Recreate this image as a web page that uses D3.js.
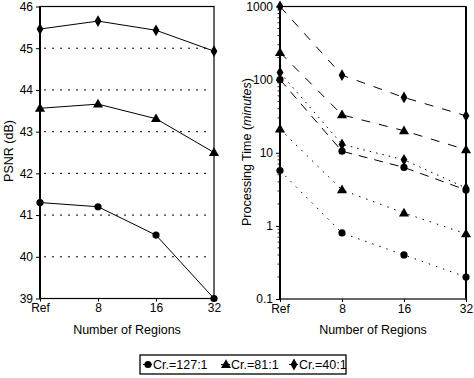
<!DOCTYPE html>
<html>
<head>
<meta charset="utf-8">
<script src="https://d3js.org/d3.v7.min.js"></script>
<style>
  body { margin: 0; background: #fff; }
  text { font-family: "Liberation Sans", Arial, sans-serif; fill: #000; }
</style>
</head>
<body>
<div id="chart"></div>
<script>
// categories on the x axis
const regions = ["Ref", "8", "16", "32"];

// left panel: PSNR (dB)
const psnr127 = [41.3, 41.2, 40.52, 39.0];
const psnr81 = [43.56, 43.66, 43.31, 42.5];
const psnr40 = [45.46, 45.65, 45.43, 44.93];
const psnrTicks = [39, 40, 41, 42, 43, 44, 45, 46];

// right panel: processing time (minutes), dashed and dotted groups
const timeDashed40 = [1000, 115, 57, 32];
const timeDashed81 = [235, 33, 20, 11];
const timeDashed127 = [100, 10.5, 6.3, 3.1];
const timeDotted40 = [125, 13, 8, 3.3];
const timeDotted81 = [21, 3.1, 1.5, 0.78];
const timeDotted127 = [5.7, 0.8, 0.4, 0.2];
const timeTicks = [0.1, 1, 10, 100, 1000];

const legendLabels = ["Cr.=127:1", "Cr.=81:1", "Cr.=40:1"];

const W = 474, H = 378;
const svg = d3.select("#chart").append("svg")
  .attr("width", W).attr("height", H);

// marker drawing
function marker(g, kind, cx, cy) {
  if (kind === "circle") {
    g.append("circle").attr("cx", cx).attr("cy", cy).attr("r", 3.6).attr("fill", "#000");
  } else if (kind === "triangle") {
    g.append("path").attr("d", d3.symbol(d3.symbolTriangle, 44)())
      .attr("transform", `translate(${cx},${cy + 0.5})`).attr("fill", "#000");
  } else {
    g.append("path").attr("d", d3.symbol(d3.symbolDiamond, 40)())
      .attr("transform", `translate(${cx},${cy})`).attr("fill", "#000");
  }
}

function panel(opts) {
  const g = svg.append("g");
  const x = d3.scalePoint().domain(regions).range([opts.x0, opts.x1]);
  const y = opts.y;

  // gridlines
  if (opts.grid) {
    g.selectAll(".grid").data(opts.grid).enter().append("line")
      .attr("x1", opts.x0 + 4).attr("x2", opts.x1 - 2)
      .attr("y1", d => y(d)).attr("y2", d => y(d))
      .attr("stroke", "#000").attr("stroke-width", 1)
      .attr("stroke-dasharray", "2,6");
  }

  // frame
  g.append("rect").attr("x", opts.x0).attr("y", opts.y1)
    .attr("width", opts.x1 - opts.x0).attr("height", opts.y0 - opts.y1)
    .attr("fill", "none").attr("stroke", "#000").attr("stroke-width", 1.2);
  g.append("line").attr("x1", opts.x0).attr("x2", opts.x0)
    .attr("y1", opts.y1).attr("y2", opts.y0)
    .attr("stroke", "#000").attr("stroke-width", 2);
  if (opts.thickRight) {
    g.append("line").attr("x1", opts.x1).attr("x2", opts.x1)
      .attr("y1", opts.y1).attr("y2", opts.y0)
      .attr("stroke", "#000").attr("stroke-width", 2);
  }

  // y axis
  const yAxis = d3.axisLeft(y).tickValues(opts.ticks).tickSize(4).tickPadding(3)
    .tickFormat(opts.fmt);
  const ya = g.append("g").attr("transform", `translate(${opts.x0},0)`).call(yAxis);
  ya.select(".domain").remove();
  ya.selectAll("text").style("font-size", "12px");

  if (opts.minor) {
    g.selectAll(".minor").data(opts.minor).enter().append("line")
      .attr("x1", opts.x0 - 2.5).attr("x2", opts.x0)
      .attr("y1", d => y(d)).attr("y2", d => y(d))
      .attr("stroke", "#000").attr("stroke-width", 0.8);
  }

  // x axis
  const xAxis = d3.axisBottom(x).tickSize(3).tickPadding(2);
  const xa = g.append("g").attr("transform", `translate(0,${opts.y0})`).call(xAxis);
  xa.select(".domain").remove();
  xa.selectAll("text").style("font-size", "12px");

  g.append("text").attr("x", (opts.x0 + opts.x1) / 2).attr("y", opts.y0 + 35)
    .attr("text-anchor", "middle").style("font-size", "12.5px")
    .text("Number of Regions");

  // series
  opts.series.forEach(s => {
    const line = d3.line().x((d, i) => x(regions[i])).y(d => y(d));
    g.append("path").datum(s.values).attr("d", line)
      .attr("fill", "none").attr("stroke", "#000")
      .attr("stroke-width", s.width || 1)
      .attr("stroke-dasharray", s.dash || null);
    s.values.forEach((v, i) => marker(g, s.kind, x(regions[i]), y(v)));
  });
  return g;
}

// left panel
const yL = d3.scaleLinear().domain([39, 46]).range([298.5, 6.5]);
panel({
  x0: 40, x1: 214, y0: 298.5, y1: 6.5, y: yL,
  ticks: psnrTicks, fmt: d3.format("d"),
  grid: [40, 41, 42, 43, 44, 45],
  series: [
    { values: psnr127, kind: "circle" },
    { values: psnr81, kind: "triangle" },
    { values: psnr40, kind: "diamond" }
  ]
});
svg.append("text")
  .attr("transform", "translate(13,151) rotate(-90)")
  .attr("text-anchor", "middle").style("font-size", "12.5px")
  .text("PSNR (dB)");

// right panel
const yR = d3.scaleLog().domain([0.1, 1000]).range([299, 6.5]);
const minorR = [];
[0.1, 1, 10, 100].forEach(b => { for (let k = 2; k <= 9; k++) minorR.push(b * k); });
panel({
  x0: 280, x1: 466, y0: 299, y1: 6.5, y: yR,
  ticks: timeTicks, fmt: d => d < 1 ? "0.1" : d3.format("d")(d),
  minor: minorR, thickRight: true,
  series: [
    { values: timeDashed40, kind: "diamond", dash: "9,9" },
    { values: timeDashed81, kind: "triangle", dash: "9,9" },
    { values: timeDashed127, kind: "circle", dash: "9,7" },
    { values: timeDotted40, kind: "diamond", dash: "1.5,5" },
    { values: timeDotted81, kind: "triangle", dash: "1.5,6" },
    { values: timeDotted127, kind: "circle", dash: "1.5,6" }
  ]
});
const yt = svg.append("text")
  .attr("transform", "translate(251,152) rotate(-90)")
  .attr("text-anchor", "middle").style("font-size", "12.5px");
yt.append("tspan").text("Processing Time (");
yt.append("tspan").style("font-style", "italic").text("minutes");
yt.append("tspan").text(")");

// legend
const lg = svg.append("g");
lg.append("rect").attr("x", 140).attr("y", 355).attr("width", 206).attr("height", 19)
  .attr("fill", "#fff").attr("stroke", "#000").attr("stroke-width", 1.3);
const legendKinds = ["circle", "triangle", "diamond"];
const legendX = [143, 221, 289];
legendLabels.forEach((t, i) => {
  const lx = legendX[i];
  lg.append("line").attr("x1", lx).attr("x2", lx + 9).attr("y1", 364.5).attr("y2", 364.5)
    .attr("stroke", "#000").attr("stroke-width", 1);
  marker(lg, legendKinds[i], lx + 5, 364.5);
  lg.append("text").attr("x", lx + 10).attr("y", 369).style("font-size", "12.5px").text(t);
});
</script>
</body>
</html>
